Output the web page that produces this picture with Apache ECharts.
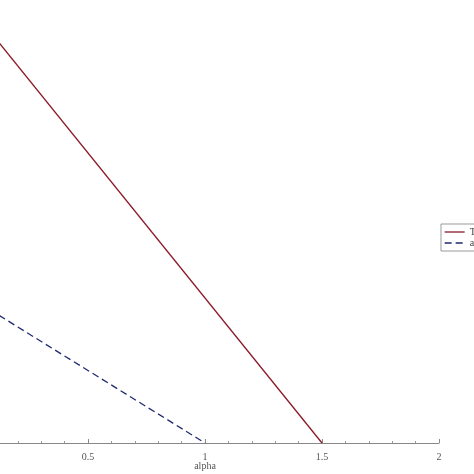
<!DOCTYPE html>
<html>
<head>
<meta charset="utf-8">
<script src="https://cdn.jsdelivr.net/npm/echarts@6/dist/echarts.min.js"></script>
<style>html,body{margin:0;padding:0;background:#fff;overflow:hidden;width:474px;height:474px;position:relative;}#c{position:absolute;left:-29px;top:0;width:560px;height:474px;}</style>
</head>
<body>
<div id="c"></div>
<script>
var alphaT = [0, 1.5];
var valuesT = [3, 0];
var alphaA = [0, 1];
var valuesA = [1, 0];
var xTicks = [0, 0.5, 1, 1.5, 2];
var seriesNames = ['T', 'a'];

var chart = echarts.init(document.getElementById('c'));
function pairs(xs, ys) { return xs.map(function (x, i) { return [x, ys[i]]; }); }
chart.setOption({
  animation: false,
  backgroundColor: '#fff',
  grid: { left: 0, right: 92, top: 0, bottom: 31, containLabel: false, outerBoundsMode: 'none' },
  legend: {
    orient: 'vertical', left: 470, top: 224,
    itemWidth: 20, itemHeight: 8, itemGap: 1,
    padding: [3, 12, 3, 3],
    borderColor: '#999', borderWidth: 1,
    itemStyle: { color: 'transparent', borderColor: 'transparent', borderWidth: 0, opacity: 0 },
    lineStyle: { width: 1.3 },
    textStyle: { fontFamily: 'Liberation Serif', fontSize: 10, color: '#444' },
    data: seriesNames
  },
  xAxis: {
    type: 'value', min: xTicks[0], max: xTicks[xTicks.length - 1], interval: 0.5,
    name: 'alpha', nameLocation: 'middle', nameGap: 18, nameMoveOverlap: false,
    nameTextStyle: { fontFamily: 'Liberation Serif', fontSize: 10, color: '#555' },
    axisLine: { lineStyle: { color: '#888', width: 1 } },
    axisTick: { inside: true, length: 4, lineStyle: { color: '#888' } },
    minorTick: { show: true, splitNumber: 5, length: 2, lineStyle: { color: '#999' } },
    axisLabel: { fontFamily: 'Liberation Serif', fontSize: 10, color: '#555', margin: 9 },
    splitLine: { show: false }
  },
  yAxis: { type: 'value', min: 0, max: 3.055, show: false },
  series: [
    { name: seriesNames[0], type: 'line', data: pairs(alphaT, valuesT), symbol: 'none',
      lineStyle: { color: '#8b1a2a', width: 1.3 }, itemStyle: { color: '#8b1a2a' } },
    { name: seriesNames[1], type: 'line', data: pairs(alphaA, valuesA), symbol: 'none',
      lineStyle: { color: '#1f2a6e', width: 1.3, type: [7, 4] }, itemStyle: { color: '#1f2a6e' } }
  ]
});
</script>
</body>
</html>
